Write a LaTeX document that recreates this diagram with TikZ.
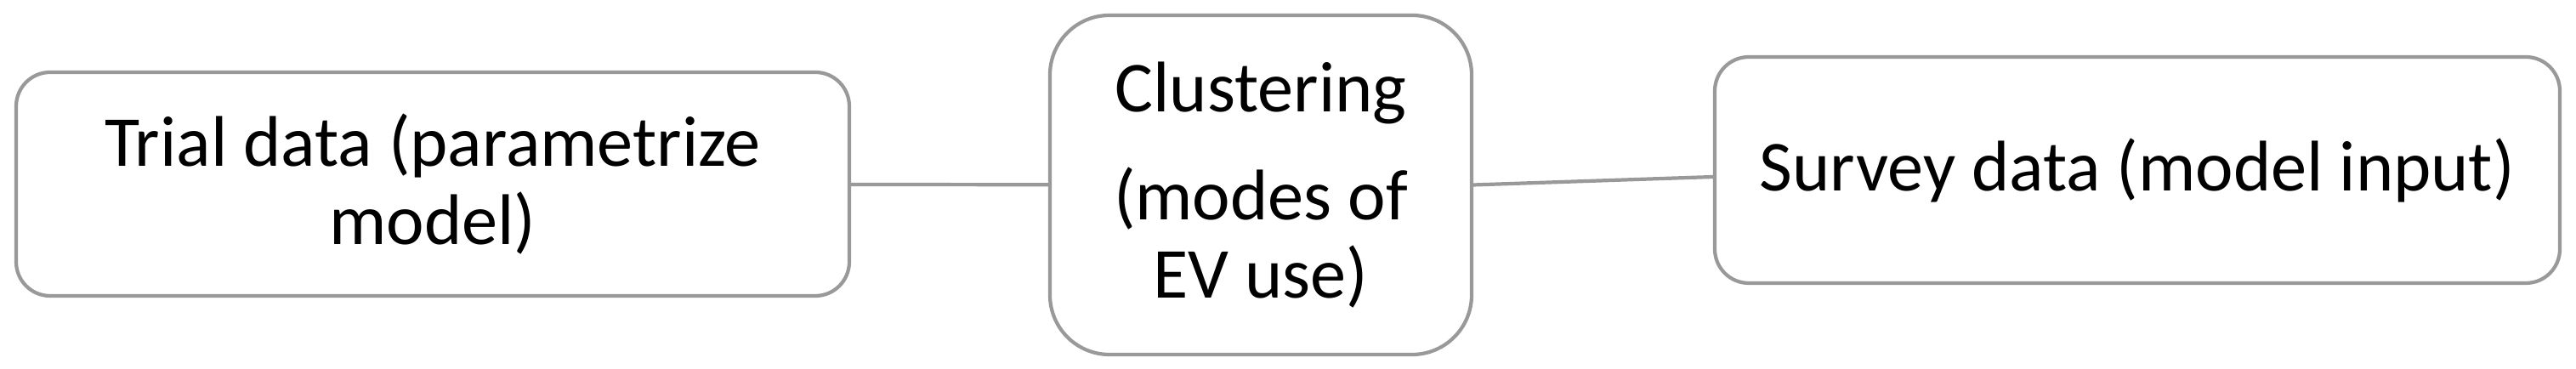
\documentclass[tikz,border=0pt]{standalone}
\usepackage{fontspec}
\setmainfont{Carlito}
\usepackage{tikz}
\usetikzlibrary{
	shapes,
	calc}

\begin{document}
\begin{tikzpicture}[
    stage/.style={draw=gray!80, line width=1.2pt, rounded corners=0.4cm,
      align=center, inner sep=0pt, font=\fontsize{24}{26}\selectfont},
    link/.style={draw=gray!80, line width=1.2pt}]
      \useasboundingbox (0,0) rectangle (30.3,4.34);

      \node[stage, minimum width=9.8cm, minimum height=2.63cm] (TD) at (5.09,2.175)
        {Trial data (parametrize\\ model)};

      \node[stage, rounded corners=0.7cm, minimum width=4.96cm, minimum height=3.99cm] (CL) at (14.83,2.165)
        {Clustering\\[0.36cm] (modes of\\ EV use)};

      \node[stage, minimum width=9.94cm, minimum height=2.66cm] (SD) at (25.14,2.34)
        {Survey data (model input)};

      \draw [link] (TD)     to (CL);
      \draw [link] (CL.east)     to ([yshift=-0.08cm]SD.west);
  \end{tikzpicture}
\end{document}
